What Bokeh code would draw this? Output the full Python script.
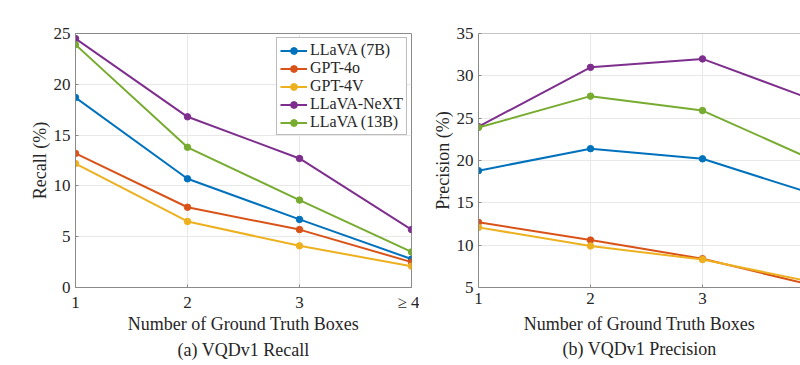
from bokeh.plotting import figure
from bokeh.models import FixedTicker, Range1d, Legend, LegendItem, Title, Span
from bokeh.layouts import row
from bokeh.embed import file_html
from bokeh.resources import INLINE

# ---- data ----
x_vals = [1, 2, 3, 4]
x_tick_labels = {1: "1", 2: "2", 3: "3", 4: "≥ 4"}
series_names = ["LLaVA (7B)", "GPT-4o", "GPT-4V", "LLaVA-NeXT", "LLaVA (13B)"]
colors = ["#0072BD", "#D95319", "#EDB120", "#7E2F8E", "#77AC30"]

recall_llava7b = [18.7, 10.7, 6.7, 2.8]
recall_gpt4o = [13.2, 7.9, 5.7, 2.5]
recall_gpt4v = [12.2, 6.5, 4.1, 2.1]
recall_next = [24.5, 16.8, 12.7, 5.7]
recall_llava13b = [23.9, 13.8, 8.6, 3.5]

prec_llava7b = [18.8, 21.4, 20.2, 16.0]
prec_gpt4o = [12.7, 10.6, 8.4, 5.2]
prec_gpt4v = [12.1, 9.9, 8.3, 5.6]
prec_next = [24.0, 31.0, 32.0, 27.1]
prec_llava13b = [23.9, 27.6, 25.9, 20.0]

recall = [recall_llava7b, recall_gpt4o, recall_gpt4v, recall_next, recall_llava13b]
precision = [prec_llava7b, prec_gpt4o, prec_gpt4v, prec_next, prec_llava13b]

FONT = "Liberation Serif"
AXIS_COL = "#8a8a8a"
TEXT_COL = "#262626"


def style_axis(ax):
    ax.axis_line_color = AXIS_COL
    ax.major_tick_line_color = AXIS_COL
    ax.major_tick_in = 3
    ax.major_tick_out = 0
    ax.minor_tick_line_color = None
    ax.major_label_text_font = FONT
    ax.major_label_text_font_size = "17px"
    ax.major_label_text_color = TEXT_COL
    ax.axis_label_text_font = FONT
    ax.axis_label_text_font_style = "normal"
    ax.axis_label_text_font_size = "18px"
    ax.axis_label_text_color = TEXT_COL


def make_plot(data, ylabel, ymin, ymax, yticks, xend, width, border_left, border_right,
              caption, full_box, with_legend, xlabel_standoff, cap_standoff):
    p = figure(width=width, height=365, output_backend="svg", toolbar_location=None,
               x_range=Range1d(1, xend), y_range=Range1d(ymin, ymax),
               min_border_left=border_left, min_border_right=border_right,
               min_border_top=33, min_border_bottom=78)
    p.outline_line_color = AXIS_COL if full_box else None
    p.background_fill_color = "white"
    p.border_fill_color = "white"

    xt = FixedTicker(ticks=x_vals)
    yt = FixedTicker(ticks=yticks)
    p.xaxis.ticker = xt
    p.yaxis.ticker = yt
    p.xgrid.ticker = xt
    p.ygrid.ticker = yt
    p.xaxis.major_label_overrides = x_tick_labels
    p.xaxis.axis_label = "Number of Ground Truth Boxes"
    p.yaxis.axis_label = ylabel
    p.xaxis.major_label_standoff = 5
    p.yaxis.major_label_standoff = 5
    p.xaxis.axis_label_standoff = xlabel_standoff
    p.yaxis.axis_label_standoff = 1
    style_axis(p.xaxis[0])
    style_axis(p.yaxis[0])

    for g in (p.xgrid[0], p.ygrid[0]):
        g.grid_line_color = "#e8e8e8"
        g.grid_line_width = 1

    if not full_box:
        p.add_layout(Span(location=ymax, dimension="width",
                          line_color=AXIS_COL, line_width=1))

    items = []
    for name, col, ys in zip(series_names, colors, data):
        ln = p.line(x_vals, ys, line_color=col, line_width=2)
        sc = p.scatter(x_vals, ys, size=6.5, fill_color=col, line_color=col)
        items.append(LegendItem(label=name, renderers=[ln, sc]))

    if with_legend:
        leg = Legend(items=items, location="top_right")
        leg.margin = 4
        leg.padding = 3
        leg.spacing = 0
        leg.label_text_font = FONT
        leg.label_text_font_size = "16px"
        leg.label_text_line_height = 1.0
        leg.label_text_color = TEXT_COL
        leg.label_height = 17
        leg.glyph_height = 17
        leg.glyph_width = 27
        leg.label_standoff = 3
        leg.border_line_color = "#7a7a7a"
        leg.border_line_width = 1
        leg.background_fill_alpha = 1.0
        p.add_layout(leg, "center")

    cap = Title(text=caption, align="center", offset=-16, standoff=cap_standoff,
                text_font=FONT, text_font_size="18px", text_font_style="normal",
                text_color=TEXT_COL)
    p.add_layout(cap, "below")
    return p


p1 = make_plot(recall, "Recall (%)", 0, 25, [0, 5, 10, 15, 20, 25], 4, 419, 75, 8,
               "(a) VQDv1 Recall", True, True, -1, 2)
p2 = make_plot(precision, "Precision (%)", 5, 35, [5, 10, 15, 20, 25, 30, 35],
               1 + 322 / 112, 381, 59, 0, "(b) VQDv1 Precision", False, False, 7, 0)

layout = row(p1, p2)
open("out.html", "w").write(file_html(layout, INLINE))
